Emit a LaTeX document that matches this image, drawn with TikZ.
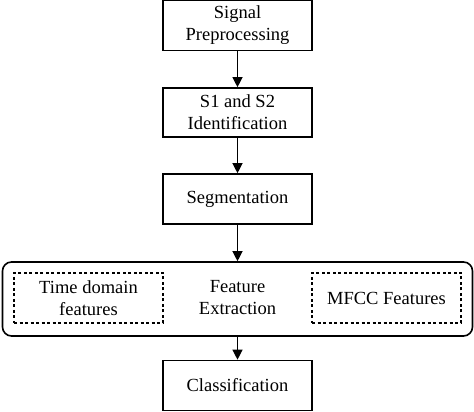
\documentclass[tikz,border=0pt]{standalone}
\usepackage{fontspec}
\setmainfont{Liberation Serif}
\usetikzlibrary{arrows.meta}
\begin{document}
\begin{tikzpicture}[x=1pt,y=1pt,
  stepbox/.style={draw, line width=1.6pt, minimum width=149pt, align=center, inner sep=0pt},
  dashbox/.style={draw, dashed, line width=1.2pt, dash pattern=on 3pt off 2.5pt, minimum width=149pt, minimum height=50pt, align=center, inner sep=0pt},
  conn/.style={line width=1.2pt, -{Triangle[length=10pt,width=10pt]}},
  every node/.style={font=\fontsize{18.5}{22}\selectfont}]
\useasboundingbox (0,0) rectangle (474,412);
\node[stepbox, minimum height=50pt] (b1) at (237.5,386.5) {Signal\\Preprocessing};
\node[stepbox, minimum height=49pt] (b2) at (237.5,299.5) {S1 and S2\\Identification};
\node[stepbox, minimum height=50pt] (b3) at (237.5,213) {Segmentation};
\node[draw, line width=1.6pt, rounded corners=9pt, minimum width=470pt, minimum height=74pt] (fe) at (237.5,113) {};
\node[align=center] (fet) at (237.5,114) {Feature\\Extraction};
\node[dashbox] (td) at (88.5,114) {Time domain\\features};
\node[dashbox] (mf) at (386.5,114) {MFCC Features};
\node[stepbox, minimum height=50pt] (b4) at (237.5,26.5) {Classification};
\draw[conn] (b1) -- (b2);
\draw[conn] (b2) -- (b3);
\draw[conn] (b3) -- (fe);
\draw[conn] (fe) -- (b4);
\end{tikzpicture}
\end{document}
